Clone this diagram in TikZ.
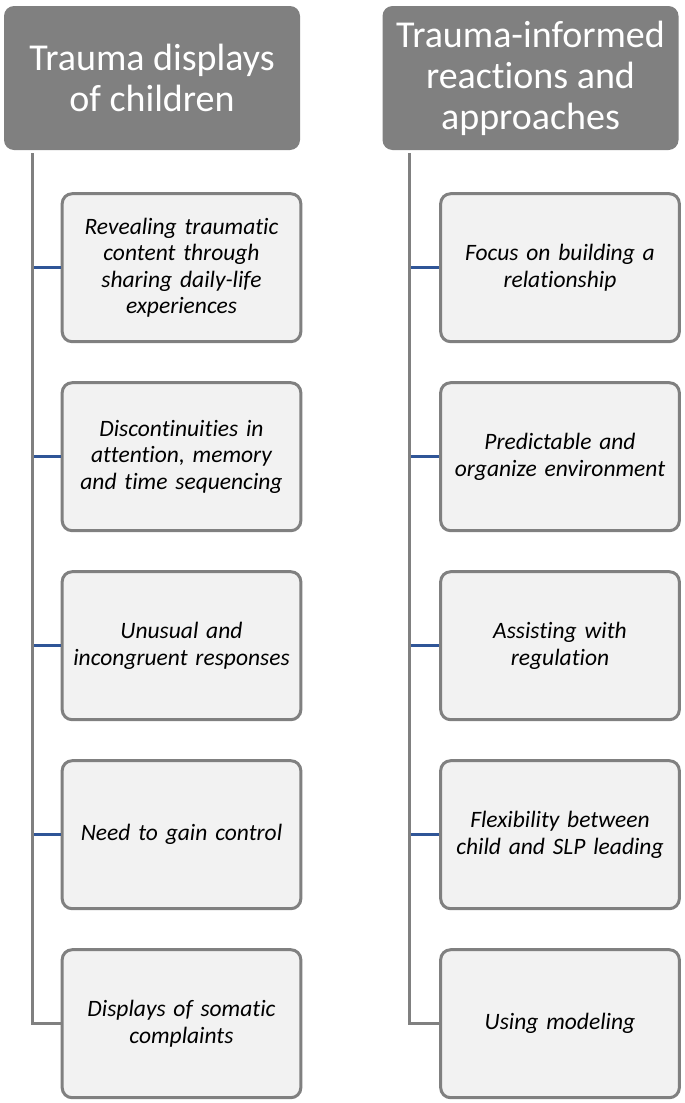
\documentclass[tikz,border=0pt]{standalone}
\usepackage{fontspec}
\setmainfont{Carlito}[Ligatures=CommonOff]
\usetikzlibrary{positioning}
\definecolor{hdgray}{RGB}{128,128,128}
\definecolor{boxfill}{RGB}{242,242,242}
\definecolor{spokeblue}{RGB}{47,85,151}
\tikzstyle{Ahead}=[fill=hdgray,rounded corners=10pt,text=white,inner sep=0,
                minimum width=296pt,minimum height=144pt,align=center,
                font=\fontsize{38}{41}\selectfont]
\tikzstyle{Abox}=[draw=hdgray,line width=3pt,fill=boxfill,rounded corners=10pt,
                minimum width=238pt,minimum height=148pt,text width=232pt,
                align=center,font=\fontsize{23.5}{26.5}\selectfont\itshape,
                node distance=38pt]
\tikzstyle{spine}=[draw=hdgray,line width=3pt]
\tikzstyle{spoke}=[draw=spokeblue,line width=2.5pt]
\newcommand{\spoke}[2]{\draw[spoke] (#1 |- #2.west) -- (#2.west);}

\begin{document}
\begin{tikzpicture}[x=1pt,y=-1pt]
  \useasboundingbox (0,0) rectangle (685,1103);
  % left column
  \node[Ahead] (hdKids) at (152,78) {Trauma displays\\of children};
  \node[Abox,below=42pt of hdKids,xshift=29.5pt] (kids1) {Revealing traumatic\\content through\\sharing daily-life\\experiences};
  \node[Abox,below=of kids1] (kids2) {Discontinuities in\\attention, memory\\and time sequencing};
  \node[Abox,below=of kids2] (kids3) {Unusual and\\incongruent responses};
  \node[Abox,below=of kids3] (kids4) {Need to gain control};
  \node[Abox,below=of kids4] (kids5) {Displays of somatic\\complaints};
  \coordinate (kidsTop) at (32,153);
  \spoke{kidsTop}{kids1} \spoke{kidsTop}{kids2}
  \spoke{kidsTop}{kids3} \spoke{kidsTop}{kids4}
  \draw[spine] (kidsTop) |- (kids5.west);
  % right column
  \node[Ahead] (hdSlp) at (530.5,78) {Trauma-informed\\reactions and\\approaches};
  \node[Abox,below=42pt of hdSlp,xshift=29.5pt] (slp1) {Focus on building a\\relationship};
  \node[Abox,below=of slp1] (slp2) {Predictable and\\organize environment};
  \node[Abox,below=of slp2] (slp3) {Assisting with\\regulation};
  \node[Abox,below=of slp3] (slp4) {Flexibility between\\child and SLP leading};
  \node[Abox,below=of slp4] (slp5) {Using modeling};
  \coordinate (slpTop) at (409.5,153);
  \spoke{slpTop}{slp1} \spoke{slpTop}{slp2}
  \spoke{slpTop}{slp3} \spoke{slpTop}{slp4}
  \draw[spine] (slpTop) |- (slp5.west);
\end{tikzpicture}
\end{document}
